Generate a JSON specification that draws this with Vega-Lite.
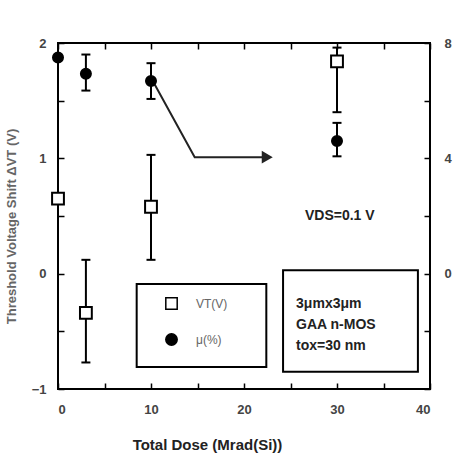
{
  "$schema": "https://vega.github.io/schema/vega-lite/v6.json",
  "width": 372,
  "height": 346,
  "autosize": "none",
  "padding": {"left": 58, "top": 43, "right": 44, "bottom": 85},
  "background": "white",
  "config": {
    "font": "Liberation Sans",
    "view": {"stroke": "black", "strokeWidth": 2},
    "axis": {"labelFont": "Liberation Sans", "labelFontWeight": "bold", "labelFontSize": 13, "labelColor": "#444", "titleFont": "Liberation Sans"},
    "legend": {"orient": "none", "legendX": 107, "legendY": 254, "symbolSize": 130, "symbolStrokeWidth": 1.5, "labelFont": "Liberation Sans", "labelFontSize": 12, "labelColor": "#666", "labelOffset": 18, "rowPadding": 17, "padding": 0}
  },
  "datasets": {
    "vt": [
      {"x": 0, "y": 0.65, "s": "VT(V)"},
      {"x": 3, "y": -0.34, "lo": -0.77, "hi": 0.12, "s": "VT(V)"},
      {"x": 10, "y": 0.58, "lo": 0.12, "hi": 1.03, "s": "VT(V)"},
      {"x": 30, "y": 1.84, "lo": 1.4, "hi": 1.96, "s": "VT(V)"}
    ],
    "mu": [
      {"x": 0, "m": 7.5, "s": "μ(%)"},
      {"x": 3, "m": 6.93, "lo": 6.35, "hi": 7.6, "s": "μ(%)"},
      {"x": 10, "m": 6.68, "lo": 6.06, "hi": 7.3, "s": "μ(%)"},
      {"x": 30, "m": 4.6, "lo": 4.07, "hi": 5.23, "s": "μ(%)"}
    ],
    "boxes": [
      {"x": 24.2, "x2": 38.7, "y": 0.03, "y2": -0.85},
      {"x": 8.46, "x2": 22.4, "y": -0.09, "y2": -0.81}
    ],
    "arrow": [
      {"x": 10.4, "y": 1.64, "o": 0},
      {"x": 14.7, "y": 1.01, "o": 1},
      {"x": 22.0, "y": 1.01, "o": 2}
    ],
    "head": [{"x": 22.5, "y": 1.01}],
    "note": [{"x": 30.3, "y": 0.5, "t": "VDS=0.1 V"}],
    "boxtext": [
      {"x": 25.6, "y": -0.26, "t": "3μmx3μm"},
      {"x": 25.6, "y": -0.445, "t": "GAA n-MOS"},
      {"x": 25.6, "y": -0.63, "t": "tox=30 nm"}
    ]
  },
  "layer": [
    {
      "layer": [
        {
          "data": {"name": "boxes"},
          "mark": {"type": "rect", "fill": null, "stroke": "black", "strokeWidth": 2},
          "encoding": {
            "x": {"field": "x", "type": "quantitative", "scale": {"domain": [0, 40], "nice": false}, "axis": {"title": "Total Dose (Mrad(Si))", "domain": false, "grid": false, "tickColor": "black", "tickSize": -6, "tickWidth": 1.5, "labelPadding": 20, "values": [0, 5, 10, 15, 20, 25, 30, 35, 40], "labelExpr": "datum.value % 10 === 0 ? datum.label : ''", "titleX": 149, "titleY": 48, "titleBaseline": "top", "titleFontSize": 15, "titleFontWeight": "bold", "titleColor": "#222"}},
            "x2": {"field": "x2"},
            "y": {"field": "y", "type": "quantitative", "scale": {"domain": [-1, 2], "nice": false, "zero": false}, "axis": {"title": "Threshold Voltage Shift ΔVT (V)", "domain": false, "grid": false, "tickColor": "black", "tickSize": -6, "tickWidth": 1.5, "labelPadding": 18, "format": ".0f", "values": [-1, -0.5, 0, 0.5, 1, 1.5, 2], "labelExpr": "datum.value % 1 === 0 ? datum.label : ''", "titleX": -43, "titleY": 183, "titleAngle": -90, "titleAlign": "center", "titleBaseline": "alphabetic", "titleFontSize": 13, "titleFontWeight": "bold", "titleColor": "#666"}},
            "y2": {"field": "y2"}
          }
        },
        {
          "data": {"name": "arrow"},
          "mark": {"type": "line", "color": "#222", "strokeWidth": 2},
          "encoding": {
            "x": {"field": "x", "type": "quantitative", "title": "Total Dose (Mrad(Si))"},
            "y": {"field": "y", "type": "quantitative", "title": "Threshold Voltage Shift ΔVT (V)"},
            "order": {"field": "o"}
          }
        },
        {
          "data": {"name": "head"},
          "mark": {"type": "point", "shape": "triangle-right", "filled": true, "color": "#222", "size": 160, "opacity": 1},
          "encoding": {
            "x": {"field": "x", "type": "quantitative", "title": "Total Dose (Mrad(Si))"},
            "y": {"field": "y", "type": "quantitative", "title": "Threshold Voltage Shift ΔVT (V)"}
          }
        },
        {
          "data": {"name": "note"},
          "mark": {"type": "text", "align": "center", "baseline": "middle", "font": "Liberation Sans", "fontWeight": "bold", "fontSize": 14, "color": "#222"},
          "encoding": {
            "x": {"field": "x", "type": "quantitative", "title": "Total Dose (Mrad(Si))"},
            "y": {"field": "y", "type": "quantitative", "title": "Threshold Voltage Shift ΔVT (V)"},
            "text": {"field": "t"}
          }
        },
        {
          "data": {"name": "boxtext"},
          "mark": {"type": "text", "align": "left", "baseline": "middle", "font": "Liberation Sans", "fontWeight": "bold", "fontSize": 14, "color": "#222"},
          "encoding": {
            "x": {"field": "x", "type": "quantitative", "title": "Total Dose (Mrad(Si))"},
            "y": {"field": "y", "type": "quantitative", "title": "Threshold Voltage Shift ΔVT (V)"},
            "text": {"field": "t"}
          }
        },
        {
          "data": {"name": "vt"},
          "mark": {"type": "rule", "color": "black", "strokeWidth": 2},
          "encoding": {
            "x": {"field": "x", "type": "quantitative", "title": "Total Dose (Mrad(Si))"},
            "y": {"field": "lo", "type": "quantitative", "title": "Threshold Voltage Shift ΔVT (V)"},
            "y2": {"field": "hi"}
          }
        },
        {
          "data": {"name": "vt"},
          "mark": {"type": "tick", "orient": "horizontal", "color": "black", "size": 9, "thickness": 2, "opacity": 1},
          "encoding": {
            "x": {"field": "x", "type": "quantitative", "title": "Total Dose (Mrad(Si))"},
            "y": {"field": "lo", "type": "quantitative", "title": "Threshold Voltage Shift ΔVT (V)"}
          }
        },
        {
          "data": {"name": "vt"},
          "mark": {"type": "tick", "orient": "horizontal", "color": "black", "size": 9, "thickness": 2, "opacity": 1},
          "encoding": {
            "x": {"field": "x", "type": "quantitative", "title": "Total Dose (Mrad(Si))"},
            "y": {"field": "hi", "type": "quantitative", "title": "Threshold Voltage Shift ΔVT (V)"}
          }
        },
        {
          "data": {"name": "vt"},
          "mark": {"type": "point", "filled": true, "stroke": "black", "strokeWidth": 2, "size": 140, "opacity": 1},
          "encoding": {
            "x": {"field": "x", "type": "quantitative", "title": "Total Dose (Mrad(Si))"},
            "y": {"field": "y", "type": "quantitative", "title": "Threshold Voltage Shift ΔVT (V)"},
            "shape": {"field": "s", "type": "nominal", "scale": {"domain": ["VT(V)", "μ(%)"], "range": ["square", "circle"]}, "legend": {"title": null, "encode": {"symbols": {"update": {"stroke": {"value": "black"}, "strokeWidth": {"value": 1.5}}}}}},
            "fill": {"field": "s", "type": "nominal", "scale": {"domain": ["VT(V)", "μ(%)"], "range": ["white", "black"]}, "legend": {"title": null, "encode": {"symbols": {"update": {"stroke": {"value": "black"}, "strokeWidth": {"value": 1.5}}}}}}
          }
        }
      ]
    },
    {
      "layer": [
        {
          "data": {"name": "mu"},
          "mark": {"type": "rule", "color": "black", "strokeWidth": 2},
          "encoding": {
            "x": {"field": "x", "type": "quantitative", "axis": {"orient": "top", "title": null, "labels": false, "domain": false, "grid": false, "tickColor": "black", "tickSize": -6, "tickWidth": 1.5, "values": [0, 5, 10, 15, 20, 25, 30, 35, 40]}},
            "y": {"field": "lo", "type": "quantitative", "scale": {"domain": [-4, 8], "nice": false, "zero": false}, "axis": {"orient": "right", "title": null, "domain": false, "grid": false, "tickColor": "black", "tickSize": -6, "tickWidth": 1.5, "labelPadding": 20, "values": [-4, -2, 0, 2, 4, 6, 8], "labelExpr": "datum.value % 4 === 0 && datum.value >= 0 ? datum.label : ''"}},
            "y2": {"field": "hi"}
          }
        },
        {
          "data": {"name": "mu"},
          "mark": {"type": "tick", "orient": "horizontal", "color": "black", "size": 9, "thickness": 2, "opacity": 1},
          "encoding": {
            "x": {"field": "x", "type": "quantitative", "title": null},
            "y": {"field": "lo", "type": "quantitative", "title": null}
          }
        },
        {
          "data": {"name": "mu"},
          "mark": {"type": "tick", "orient": "horizontal", "color": "black", "size": 9, "thickness": 2, "opacity": 1},
          "encoding": {
            "x": {"field": "x", "type": "quantitative", "title": null},
            "y": {"field": "hi", "type": "quantitative", "title": null}
          }
        },
        {
          "data": {"name": "mu"},
          "mark": {"type": "point", "filled": true, "stroke": "black", "strokeWidth": 1.5, "size": 110, "opacity": 1},
          "encoding": {
            "x": {"field": "x", "type": "quantitative", "title": null},
            "y": {"field": "m", "type": "quantitative", "title": null},
            "shape": {"field": "s", "type": "nominal", "scale": {"domain": ["VT(V)", "μ(%)"], "range": ["square", "circle"]}, "legend": {"title": null, "encode": {"symbols": {"update": {"stroke": {"value": "black"}, "strokeWidth": {"value": 1.5}}}}}},
            "fill": {"field": "s", "type": "nominal", "scale": {"domain": ["VT(V)", "μ(%)"], "range": ["white", "black"]}, "legend": {"title": null, "encode": {"symbols": {"update": {"stroke": {"value": "black"}, "strokeWidth": {"value": 1.5}}}}}}
          }
        }
      ]
    }
  ],
  "resolve": {"scale": {"y": "independent"}, "axis": {"x": "independent"}}
}
